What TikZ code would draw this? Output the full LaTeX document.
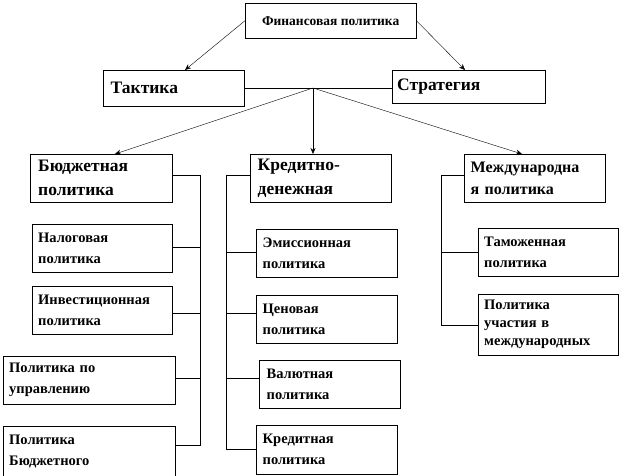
\documentclass[tikz,border=0pt]{standalone}
\usepackage{fontspec}
\setmainfont{Liberation Serif}
\usetikzlibrary{arrows.meta}
\begin{document}
\begin{tikzpicture}[x=1pt,y=-1pt,every path/.style={thin},
  box/.style={draw,anchor=north west,inner sep=0pt,align=left,font=\bfseries\fontsize{14.5}{21}\selectfont},
  bigbox/.style={box,font=\bfseries\fontsize{17.5}{24}\selectfont},
  link/.style={-{Stealth[length=6pt,width=5pt]}}]
\useasboundingbox (0,0) rectangle (622,476);
\node[box,minimum width=171,minimum height=35,align=center,font=\bfseries\fontsize{13.5}{15}\selectfont] (fin) at (245,3) {Финансовая политика};
\node[bigbox,minimum width=141,minimum height=36,text width=126] (tak) at (103,70) {Тактика};
\node[bigbox,minimum width=153,minimum height=33,text width=143] (str) at (392,70) {Стратегия};
\node[bigbox,minimum width=142,minimum height=48,text width=126] (bud) at (30,154) {Бюджетная\\политика};
\node[bigbox,minimum width=141,minimum height=48,text width=126] (kre) at (250,154) {Кредитно-\\денежная};
\node[box,minimum width=141,minimum height=48,text width=128,font=\bfseries\fontsize{16}{22}\selectfont] (mez) at (464,154) {Международна\\я политика};
% children
\node[box,minimum width=140,minimum height=48,text width=128] (nal) at (32,224) {Налоговая\\политика};
\node[box,minimum width=140,minimum height=48,text width=128] (inv) at (32,286) {Инвестиционная\\политика};
\node[box,minimum width=172,minimum height=48,text width=160] (upr) at (3,356) {Политика по\\управлению};
\node[box,minimum width=172,minimum height=50,text width=160] (bdz) at (3,426) {Политика\\Бюджетного};
\node[box,minimum width=141,minimum height=48,text width=128] (emi) at (256,229) {Эмиссионная\\политика};
\node[box,minimum width=141,minimum height=48,text width=128] (cen) at (256,295) {Ценовая\\политика};
\node[box,minimum width=141,minimum height=48,text width=126] (val) at (259,360) {Валютная\\политика};
\node[box,minimum width=141,minimum height=49,text width=128] (krp) at (256,425) {Кредитная\\политика};
\node[box,minimum width=140,minimum height=48,text width=128] (tam) at (478,228) {Таможенная\\политика};
\node[box,minimum width=140,minimum height=61,text width=128,font=\bfseries\fontsize{14.5}{18}\selectfont] (uch) at (478,294) {Политика\\участия в\\международных};
% top links
\coordinate (jn) at (313,88);
\draw[link] (fin.west) -- (185,70);
\draw[link] (fin.east) -- (465,70);
\draw (tak.east |- jn) -- (str.west |- jn);
\draw[link] (jn) -- (115,154);
\draw[link] (jn) -- (jn |- kre.north);
\draw[link] (jn) -- (522,154);
% branches
\draw (bud.east |- 0,175) -| (200,445) -- (bdz.east |- 0,445);
\foreach \n/\y in {nal/247,inv/313,upr/378} \draw (\n.east |- 0,\y) -- (200,\y);
\draw (kre.west |- 0,175) -| (226,449) -- (krp.west |- 0,449);
\foreach \n/\y in {emi/252,cen/313,val/378} \draw (\n.west |- 0,\y) -- (226,\y);
\draw (mez.west |- 0,175) -| (441,325) -- (uch.west |- 0,325);
\draw (tam.west |- 0,252) -- (441,252);
\end{tikzpicture}
\end{document}
